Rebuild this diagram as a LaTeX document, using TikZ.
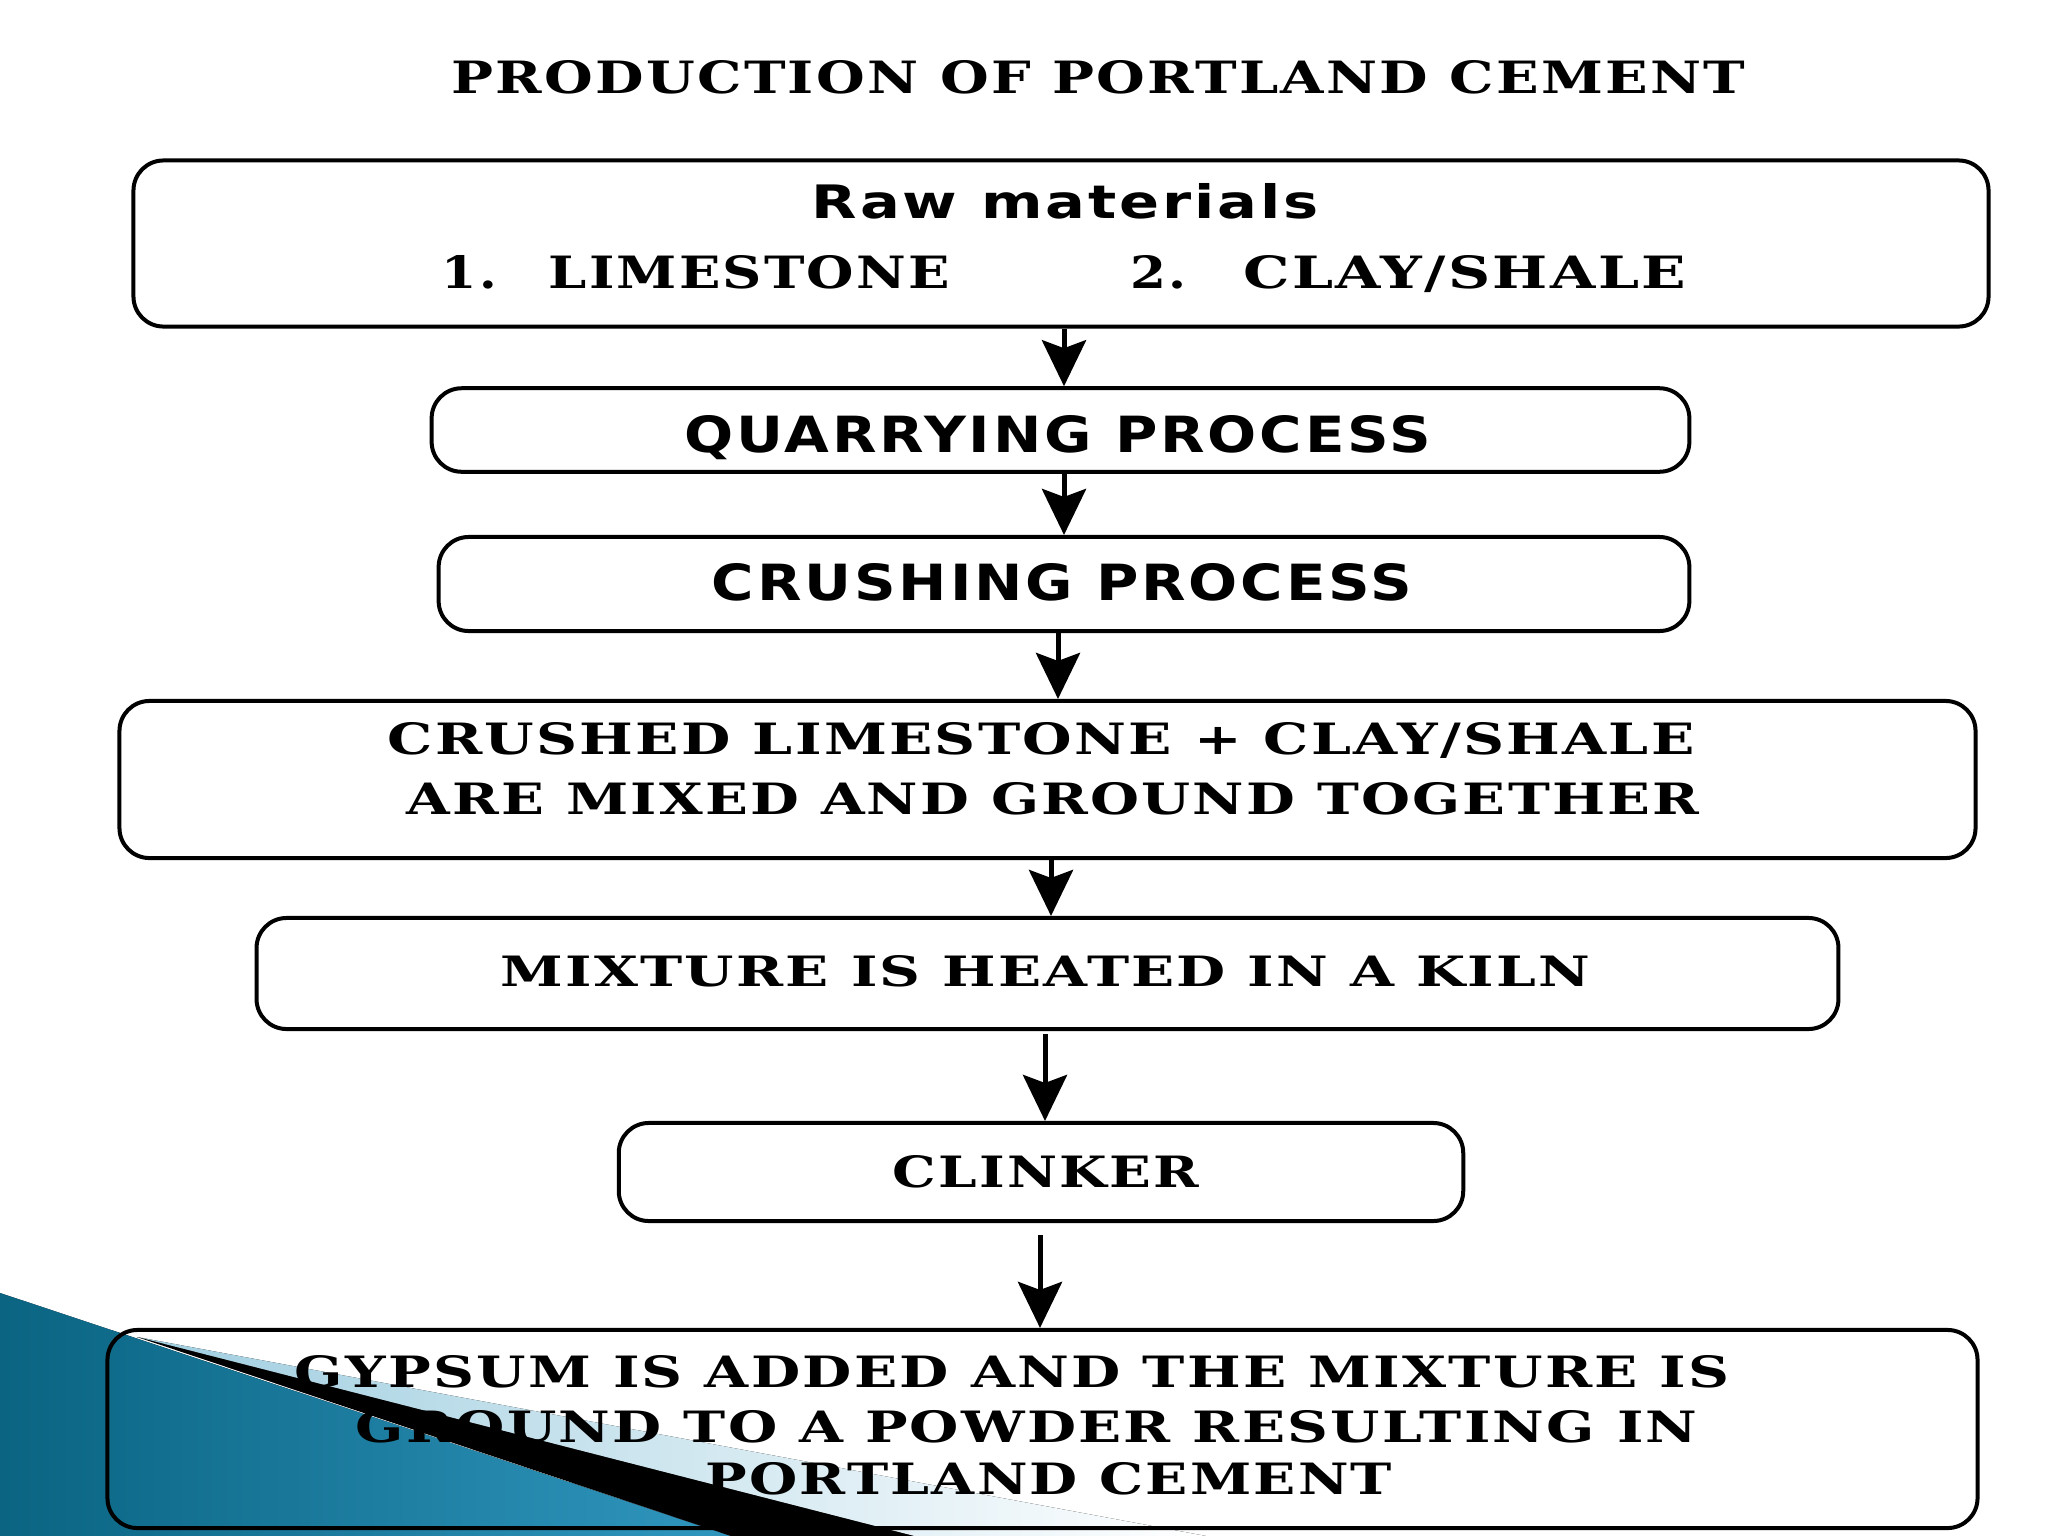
\documentclass[tikz,border=0pt]{standalone}
\usepackage{fontspec}
\usepackage{graphicx}
\usetikzlibrary{arrows.meta}
\newfontfamily\slabfont[LetterSpace=4]{DejaVu Serif}
\newfontfamily\blockfont[LetterSpace=5]{DejaVu Sans}
\definecolor{tealdark}{RGB}{10,100,130}
\definecolor{teallight}{RGB}{92,188,222}
\definecolor{tealmid}{RGB}{48,150,190}
\definecolor{palewash}{RGB}{160,206,224}
\begin{document}
\begin{tikzpicture}[x=0.01cm,y=0.01cm]
    \tikzstyle{every node}+=[inner sep=0pt]
    \tikzstyle{stage}=[draw=black, rounded corners=0.3cm, line width=0.04cm]
    \tikzstyle{txt}=[anchor=base west]
    \tikzstyle{slab}=[txt, font=\slabfont\bfseries]
    \tikzstyle{block}=[txt, font=\blockfont\bfseries]
    \tikzstyle{flow}=[black, line width=0.05cm, -{Stealth[length=0.46cm,width=0.44cm,inset=0.08cm]}]
    \fill [white] (0,0) rectangle (2048,-1536);
    \useasboundingbox (0,0) rectangle (2048,-1536);
    % corner decoration, under the boxes
    \fill [left color=tealdark, middle color=teallight, right color=tealmid] (0,-1293) -- (731,-1536) -- (0,-1536) -- cycle;
    \fill [left color=palewash, right color=white] (137,-1337) -- (1206,-1536) -- (914,-1536) -- cycle;
    \node [slab] (title) at (451,-93) {\resizebox{12.93cm}{0.33cm}{PRODUCTION OF PORTLAND CEMENT}};
    \node [stage, minimum width=18.54cm, minimum height=1.66cm] (raw) at (1061,-243.5) {};
    \node [block] (rawhead) at (811,-218) {\resizebox{5.07cm}{0.35cm}{Raw materials}};
    \node [slab] (rawone) at (441,-288) {\resizebox{0.55cm}{0.33cm}{1.}};
    \node [slab] (limestone) at (548,-288) {\resizebox{4.01cm}{0.33cm}{LIMESTONE}};
    \node [slab] (rawtwo) at (1130,-288) {\resizebox{0.56cm}{0.33cm}{2.}};
    \node [slab] (clay) at (1243,-288) {\resizebox{4.42cm}{0.33cm}{CLAY/SHALE}};
    \node [stage, minimum width=12.57cm, minimum height=0.835cm] (quarry) at (1060.5,-430) {};
    \node [block] (quarrytext) at (684,-452) {\resizebox{7.46cm}{0.37cm}{QUARRYING PROCESS}};
    \node [stage, minimum width=12.50cm, minimum height=0.94cm] (crush) at (1064,-584) {};
    \node [block] (crushtext) at (711,-600) {\resizebox{7.00cm}{0.37cm}{CRUSHING PROCESS}};
    \node [stage, minimum width=18.55cm, minimum height=1.57cm] (mix) at (1047.5,-779.5) {};
    \node [slab] (mixtop) at (387,-754) {\resizebox{13.06cm}{0.32cm}{CRUSHED LIMESTONE + CLAY/SHALE}};
    \node [slab] (mixbottom) at (406,-814) {\resizebox{12.92cm}{0.32cm}{ARE MIXED AND GROUND TOGETHER}};
    \node [stage, minimum width=15.81cm, minimum height=1.11cm] (kiln) at (1047.5,-973.5) {};
    \node [slab] (kilntext) at (500,-986) {\resizebox{10.89cm}{0.31cm}{MIXTURE IS HEATED IN A KILN}};
    \node [stage, minimum width=8.44cm, minimum height=0.98cm] (clinker) at (1041,-1172) {};
    \node [slab] (clinkertext) at (892,-1187) {\resizebox{3.06cm}{0.32cm}{CLINKER}};
    \node [stage, minimum width=18.69cm, minimum height=1.98cm] (gypsum) at (1042.5,-1429) {};
    \node [slab] (gyptop) at (294,-1387) {\resizebox{14.34cm}{0.32cm}{GYPSUM IS ADDED AND THE MIXTURE IS}};
    \node [slab] (gypmid) at (355,-1442) {\resizebox{13.41cm}{0.32cm}{GROUND TO A POWDER RESULTING IN}};
    \node [slab] (gypbottom) at (705,-1494) {\resizebox{6.86cm}{0.32cm}{PORTLAND CEMENT}};
    \draw [flow] ([xshift=0.03cm]raw.south) -- ([xshift=0.03cm]raw.south |- quarry.north);
    \draw [flow] ([xshift=0.035cm]quarry.south) -- ([xshift=0.035cm]quarry.south |- crush.north);
    \draw [flow] ([xshift=-0.06cm]crush.south) -- ([xshift=-0.06cm]crush.south |- mix.north);
    \draw [flow] ([xshift=0.035cm]mix.south) -- ([xshift=0.035cm]mix.south |- kiln.north);
    \draw [flow] ([xshift=-0.025cm,yshift=-0.03cm]kiln.south) -- ([xshift=-0.025cm]kiln.south |- clinker.north);
    \draw [flow] ([xshift=-0.01cm,yshift=-0.12cm]clinker.south) -- ([xshift=-0.01cm]clinker.south |- gypsum.north);
    % black band on top
    \fill [black] (137,-1337) -- (914,-1536) -- (731,-1536) -- cycle;
\end{tikzpicture}
\end{document}
